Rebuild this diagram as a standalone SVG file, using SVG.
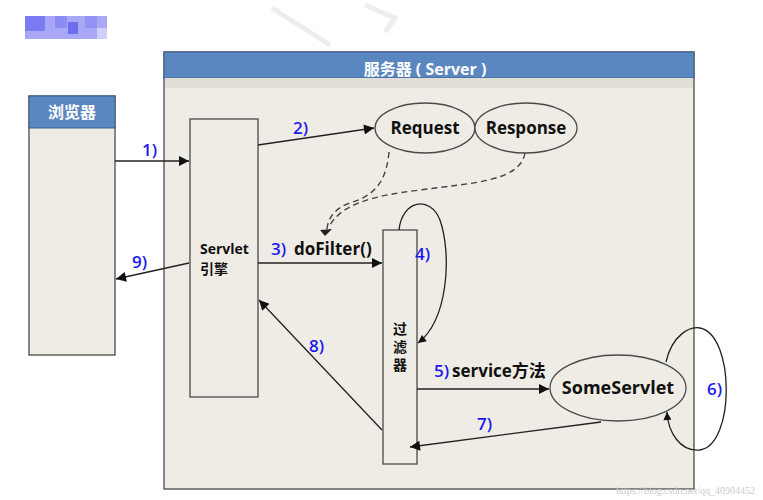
<svg xmlns="http://www.w3.org/2000/svg" width="763" height="500" viewBox="0 0 763 500">
<defs>
<style>
.box{fill:#eeece5;stroke:#4a4a4a;stroke-width:1.3}
.hdr{fill:#5b87c1;stroke:#3f5f8a;stroke-width:1}
.ln{stroke:#222;stroke-width:1.3;fill:none}
.dash{stroke:#444;stroke-width:1.4;fill:none;stroke-dasharray:6 4}
.num{font-family:"Open Sans","Liberation Sans",sans-serif;font-weight:600;font-size:17px;fill:#1a1aee}
.bt{font-family:"Open Sans","Noto Sans CJK SC",sans-serif;font-weight:bold;fill:#111}
.wt{font-family:"Open Sans","Noto Sans CJK SC",sans-serif;font-weight:bold;fill:#fff}
</style>
<marker id="ah" viewBox="0 0 10 10" refX="10" refY="5" markerWidth="14" markerHeight="10" markerUnits="userSpaceOnUse" orient="auto"><path d="M0,0 L10,5 L0,10 z" fill="#111"/></marker>
<marker id="as" viewBox="0 0 10 10" refX="10" refY="5" markerWidth="9" markerHeight="8" markerUnits="userSpaceOnUse" orient="auto"><path d="M0,0 L10,5 L0,10 z" fill="#111"/></marker>
</defs>
<rect width="763" height="500" fill="#fff"/>
<!-- watermark -->
<g opacity="0.25" stroke="#bbb" stroke-width="5" fill="none">
<path d="M272,8 L330,45"/><path d="M365,5 L395,18 L385,32"/>
</g>
<!-- blurred logo -->
<g id="logo" opacity="0.75">
<rect x="25" y="16" width="82" height="23" fill="#8c8cf5"/>
<rect x="25" y="16" width="20" height="15" fill="#4f4ff0"/>
<rect x="55" y="16" width="12" height="12" fill="#6666f2"/>
<rect x="68" y="22" width="10" height="12" fill="#3d3dee"/>
<rect x="85" y="16" width="12" height="12" fill="#7070f4"/>
<rect x="97" y="28" width="10" height="11" fill="#c0c0fa"/>
</g>
<g id="server">
<rect class="box" x="164" y="52" width="530" height="437"/>
<rect class="hdr" x="164" y="52" width="530" height="26"/>
<rect x="165" y="78" width="528" height="10" fill="#e0ded7"/>
<text class="wt" x="425" y="75" font-size="16" text-anchor="middle">服务器 ( Server )</text>
</g>
<g id="browser">
<rect class="box" x="29" y="96" width="86" height="259"/>
<rect class="hdr" x="29" y="96" width="86" height="32"/>
<text class="wt" x="72" y="118" font-size="16" text-anchor="middle">浏览器</text>
</g>
<g id="engine">
<rect class="box" x="190" y="119" width="68" height="278"/>
<text class="bt" x="200" y="254" font-size="14">Servlet</text>
<text class="bt" x="200" y="274" font-size="14" font-weight="normal">引擎</text>
</g>
<g id="filter">
<rect class="box" x="383" y="230" width="34" height="234"/>
<text class="bt" x="400" y="334" font-size="14" text-anchor="middle">过</text>
<text class="bt" x="400" y="352" font-size="14" text-anchor="middle">滤</text>
<text class="bt" x="400" y="370" font-size="14" text-anchor="middle">器</text>
</g>
<g id="request">
<ellipse class="box" cx="425" cy="128" rx="50" ry="25"/>
<text class="bt" x="425" y="134" font-size="17" text-anchor="middle">Request</text>
</g>
<g id="response">
<ellipse class="box" cx="526" cy="128" rx="51" ry="25"/>
<text class="bt" x="526" y="134" font-size="17" text-anchor="middle">Response</text>
</g>
<g id="someservlet">
<ellipse class="box" cx="618" cy="388" rx="68" ry="33"/>
<text class="bt" x="618" y="394" font-size="18" text-anchor="middle">SomeServlet</text>
</g>
<g id="connectors">
<path class="ln" d="M115,161 L189,161" marker-end="url(#ah)"/>
<path class="ln" d="M258,145 L374,128" marker-end="url(#ah)"/>
<path class="ln" d="M258,263 L382,263" marker-end="url(#ah)"/>
<path class="ln" d="M399,230 C402,200 430,195 440,220 C452,255 448,320 418,343" marker-end="url(#as)"/>
<path class="ln" d="M417,389 L549,389" marker-end="url(#ah)"/>
<path class="ln" d="M666,362 C672,335 690,326 700,328 C735,335 735,445 700,450 C680,452 668,432 667,412" marker-end="url(#as)"/>
<path class="ln" d="M601,422 L410,447" marker-end="url(#ah)"/>
<path class="ln" d="M382,430 L259,300" marker-end="url(#ah)"/>
<path class="ln" d="M189,263 L116,279" marker-end="url(#ah)"/>
<path class="dash" d="M389,152 C386,185 372,196 350,203 C335,208 328,218 327,229"/>
<path class="dash" d="M525,153 C520,182 470,183 420,190 C370,196 340,205 329,227"/>
<path d="M320,230 L332,229 L325,236 z" fill="#222"/>
</g>
<g id="labels">
<text class="num" x="142" y="156">1)</text>
<text class="num" x="293" y="134">2)</text>
<text class="num" x="271" y="255">3)</text>
<text class="bt" x="294" y="255" font-size="17">doFilter()</text>
<text class="num" x="415" y="260">4)</text>
<text class="num" x="434" y="377">5)</text>
<text class="bt" x="452" y="377" font-size="17">service方法</text>
<text class="num" x="707" y="395">6)</text>
<text class="num" x="477" y="430">7)</text>
<text class="num" x="309" y="352">8)</text>
<text class="num" x="132" y="268">9)</text>
<text x="755" y="494" font-family="Liberation Serif,serif" font-size="10" fill="#ccc" text-anchor="end">https://blog.csdn.net/qq_40904452</text>
</g>
</svg>
